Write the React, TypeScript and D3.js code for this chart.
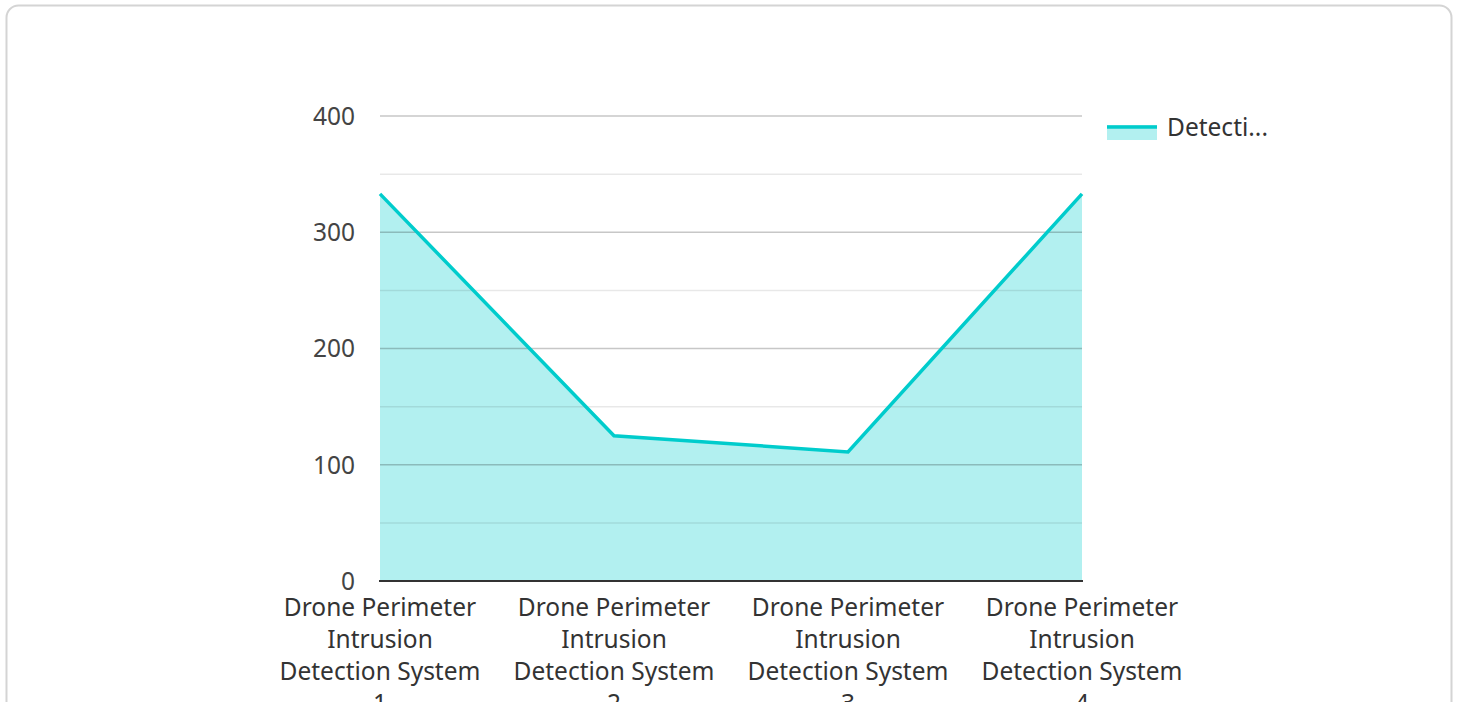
import React from "react";
import * as d3 from "d3";

const categories = [
  "Drone Perimeter Intrusion Detection System 1",
  "Drone Perimeter Intrusion Detection System 2",
  "Drone Perimeter Intrusion Detection System 3",
  "Drone Perimeter Intrusion Detection System 4",
];
const categoryLines = [
  ["Drone Perimeter", "Intrusion", "Detection System", "1"],
  ["Drone Perimeter", "Intrusion", "Detection System", "2"],
  ["Drone Perimeter", "Intrusion", "Detection System", "3"],
  ["Drone Perimeter", "Intrusion", "Detection System", "4"],
];
const values = [333, 125, 111, 333];
const majorTicks = [0, 100, 200, 300, 400];
const minorTicks = [50, 150, 250, 350];
const seriesName = "Detecti...";

const W = 1458;
const H = 702;
const FONT = "'Noto Sans', 'Open Sans', sans-serif";
const LINE = "#00CCCC";
const FS = 24.5;

export default function App() {
  const x = d3.scalePoint<string>().domain(categories).range([380, 1082]);
  const y = d3.scaleLinear().domain([0, 400]).range([581, 116]);
  const pts = categories.map((c, i) => [x(c) as number, y(values[i])] as [number, number]);
  const line = d3.line()(pts) as string;
  const area = d3
    .area<[number, number]>()
    .x((d) => d[0])
    .y0(y(0))
    .y1((d) => d[1])(pts) as string;

  return (
    <svg
      width={W}
      height={H}
      style={{ position: "absolute", left: 0, top: 0, display: "block" }}
      fontFamily={FONT}
    >
      <rect x={6.5} y={5.5} width={1445} height={710} rx={12} ry={12} fill="#fff" stroke="#d4d4d4" strokeWidth={2} />
      <path d={area} fill={LINE} fillOpacity={0.3} />
      {minorTicks.map((t) => (
        <line key={"m" + t} x1={380} x2={1082} y1={y(t)} y2={y(t)} stroke="#000" strokeOpacity={0.09} strokeWidth={1.5} />
      ))}
      {majorTicks.filter((t) => t > 0).map((t) => (
        <line key={"g" + t} x1={380} x2={1082} y1={y(t)} y2={y(t)} stroke="#000" strokeOpacity={0.22} strokeWidth={1.5} />
      ))}
      <path d={line} fill="none" stroke={LINE} strokeWidth={3.5} strokeLinejoin="miter" />
      <line x1={379} x2={1083} y1={y(0)} y2={y(0)} stroke="#333" strokeWidth={2} />
      {majorTicks.map((t) => (
        <text key={"t" + t} x={355} y={y(t)} dy="0.36em" textAnchor="end" fontSize={FS} fill="#444">
          {t}
        </text>
      ))}
      {categories.map((c, i) => (
        <text key={c} x={x(c) as number} textAnchor="middle" fontSize={FS} fill="#333">
          {categoryLines[i].map((l, j) => (
            <tspan key={j} x={x(c) as number} y={616 + j * 32}>
              {l}
            </tspan>
          ))}
        </text>
      ))}
      <g>
        <rect x={1107} y={125} width={50} height={15} fill={LINE} fillOpacity={0.3} />
        <line x1={1107} x2={1157} y1={127} y2={127} stroke={LINE} strokeWidth={3.5} />
        <text x={1167} y={136} fontSize={FS} fill="#333">
          {seriesName}
        </text>
      </g>
    </svg>
  );
}
